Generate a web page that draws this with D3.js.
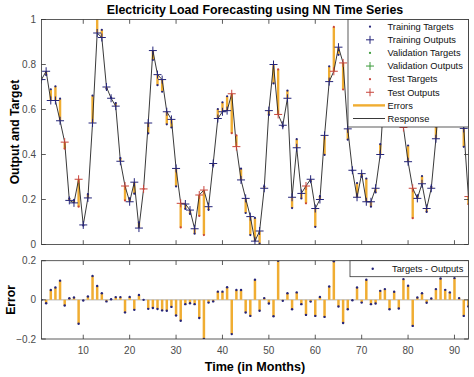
<!DOCTYPE html>
<html><head><meta charset="utf-8">
<script src="https://cdn.jsdelivr.net/npm/d3@7"></script>
<style>body{margin:0;background:#fff} text{font-family:"Liberation Sans",Arial,Helvetica,sans-serif}</style>
</head><body><svg id="c" width="474" height="377"></svg>
<script>
const months = d3.range(1, 94);
const outputs = [
 0.733,0.77,0.64,0.64,0.55,0.455,0.196,0.185,0.29,0.087,
 0.207,0.54,0.94,0.92,0.70,0.65,0.615,0.37,0.26,0.19,
 0.277,0.073,0.247,0.54,0.862,0.755,0.733,0.59,0.556,0.338,
 0.183,0.18,0.153,0.07,0.22,0.242,0.168,0.36,0.56,0.59,
 0.595,0.67,0.435,0.287,0.205,0.124,0.015,0.06,0.25,0.595,
 0.80,0.578,0.53,0.65,0.21,0.43,0.227,0.26,0.29,0.16,
 0.20,0.485,0.724,0.77,0.877,0.807,0.514,0.33,0.21,0.315,
 0.19,0.19,0.25,0.40,0.72,0.86,0.88,0.70,0.52,0.368,
 0.25,0.205,0.27,0.16,0.25,0.47,0.72,0.9,0.86,0.78,
 0.68,0.516,0.213];
const errors = [
 0,-0.017,0.05,0.063,0.098,-0.029,0.008,0.012,-0.122,-0.003,
 0.017,0.122,0.071,0.034,-0.008,0.003,0.014,0.014,-0.064,0.015,
 -0.051,0.025,0,-0.046,-0.042,-0.047,-0.054,-0.056,-0.036,-0.08,
 -0.107,-0.022,-0.017,-0.022,-0.093,-0.2,-0.014,-0.008,0.042,0.042,
 0.064,-0.175,0.05,0.05,-0.065,-0.082,0.103,-0.056,0.009,-0.019,
 -0.084,0.2,-0.005,0.034,-0.048,0.038,-0.022,-0.077,-0.009,-0.082,
 0.015,-0.087,0.068,0.197,-0.034,-0.118,-0.048,-0.002,0.063,-0.014,
 0.103,-0.022,-0.019,0.046,0.055,-0.048,0.041,-0.044,0.106,0.072,
 -0.133,0.012,0.034,-0.015,0.007,0.055,0.109,0.051,0.038,0.111,
 0.009,-0.082,-0.034];
const testMonths = [6,9,19,23,31,35,36,42,43,52,58,64,66,79,81,93];
const xTicks = [10,20,30,40,50,60,70,80,90];
const yTicksTop = [0,0.2,0.4,0.6,0.8,1];
const yTicksBottom = [-0.2,0,0.2];
const legendLabels = ["Training Targets","Training Outputs","Validation Targets","Validation Outputs","Test Targets","Test Outputs","Errors","Response"];
const errLegendLabel = "Targets - Outputs";
const titleText = "Electricity Load Forecasting using NN Time Series";

const C = {orange:"#F0AD32", navy:"#25257a", red:"#c8453c", green:"#3a9a3a", axis:"#333", tick:"#4a4a4a", line:"#222"};
const svg = d3.select("#c");
const L = 41.5, R = 468.4;
const x = d3.scaleLinear().domain([1,93]).range([L,R]);
const yT = d3.scaleLinear().domain([0,1]).range([244.5,19.5]);
const yB = d3.scaleLinear().domain([-0.2,0.2]).range([339,260.7]);

const data = months.map((m,i)=>({m, out:outputs[i], err:errors[i], tgt:outputs[i]+errors[i], test:testMonths.includes(m)}));
const col = d => d.test ? C.red : C.navy;

function clip(id, y){ svg.append("clipPath").attr("id",id).append("rect")
  .attr("x",L).attr("y",y.range()[1]).attr("width",R-L).attr("height",y.range()[0]-y.range()[1]); }
clip("ct", yT); clip("cb", yB);

const plus = "M-4,0H4M0,-4V4";

// ---- top panel
const gT = svg.append("g").attr("clip-path","url(#ct)");
gT.selectAll("line.err").data(data).join("line")
  .attr("x1",d=>x(d.m)).attr("x2",d=>x(d.m)).attr("y1",d=>yT(d.out)).attr("y2",d=>yT(d.tgt))
  .attr("stroke",C.orange).attr("stroke-width",2.4);
gT.append("path").datum(data).attr("fill","none").attr("stroke",C.line).attr("stroke-width",0.9)
  .attr("d", d3.line().x(d=>x(d.m)).y(d=>yT(d.out)));
gT.selectAll("path.p").data(data).join("path").attr("class","p")
  .attr("transform",d=>`translate(${x(d.m)},${yT(d.out)})`).attr("d",plus)
  .attr("stroke",col).attr("stroke-width",1).attr("fill","none");
gT.selectAll("circle").data(data).join("circle")
  .attr("cx",d=>x(d.m)).attr("cy",d=>yT(d.tgt)).attr("r",1.1).attr("fill",col);

function frame(y, yticks, showX){
  const y0 = y.range()[0], y1 = y.range()[1];
  const g = svg.append("g");
  g.append("rect").attr("x",L).attr("y",y1).attr("width",R-L).attr("height",y0-y1)
    .attr("fill","none").attr("stroke",C.axis).attr("stroke-width",0.8);
  const tl = 4.3;
  xTicks.forEach(t=>{
    g.append("line").attr("x1",x(t)).attr("x2",x(t)).attr("y1",y0).attr("y2",y0-tl).attr("stroke",C.axis).attr("stroke-width",0.8);
    g.append("line").attr("x1",x(t)).attr("x2",x(t)).attr("y1",y1).attr("y2",y1+tl).attr("stroke",C.axis).attr("stroke-width",0.8);
    if(showX) g.append("text").attr("x",x(t)).attr("y",y0+15).attr("text-anchor","middle")
      .attr("font-size",10).attr("fill",C.tick).text(t);
  });
  yticks.forEach(t=>{
    g.append("line").attr("x1",L).attr("x2",L+tl).attr("y1",y(t)).attr("y2",y(t)).attr("stroke",C.axis).attr("stroke-width",0.8);
    g.append("line").attr("x1",R).attr("x2",R-tl).attr("y1",y(t)).attr("y2",y(t)).attr("stroke",C.axis).attr("stroke-width",0.8);
    g.append("text").attr("x",L-5.5).attr("y",y(t)+3.5).attr("text-anchor","end")
      .attr("font-size",10).attr("fill",C.tick).text(d3.format("~g")(t));
  });
}
frame(yT, yTicksTop, false);

// top legend
const lg = svg.append("g");
lg.append("rect").attr("x",348).attr("y",19.5).attr("width",R-348).attr("height",107.5)
  .attr("fill","#fff").attr("stroke",C.axis).attr("stroke-width",0.8);
const rowY = d3.scaleLinear().domain([0,7]).range([26.7,118.5]);
const legendStyle = [
 {type:"dot",c:C.navy},{type:"plus",c:C.navy},{type:"dot",c:C.green},{type:"plus",c:C.green},
 {type:"dot",c:C.red},{type:"plus",c:C.red},{type:"line",c:C.orange,w:2.4},{type:"line",c:C.line,w:0.9}];
legendLabels.forEach((lab,i)=>{
  const yy = rowY(i), s = legendStyle[i];
  if(s.type==="dot") lg.append("circle").attr("cx",370).attr("cy",yy).attr("r",1.1).attr("fill",s.c);
  if(s.type==="plus") lg.append("path").attr("transform",`translate(370,${yy})`).attr("d",plus).attr("stroke",s.c).attr("stroke-width",1);
  if(s.type==="line") lg.append("line").attr("x1",353).attr("x2",385).attr("y1",yy).attr("y2",yy).attr("stroke",s.c).attr("stroke-width",s.w);
  lg.append("text").attr("x",387.5).attr("y",yy+3.3).attr("font-size",9.3).attr("fill","#111").text(lab);
});

// ---- bottom panel
const gB = svg.append("g").attr("clip-path","url(#cb)");
gB.append("line").attr("x1",L).attr("x2",R).attr("y1",yB(0)).attr("y2",yB(0)).attr("stroke","#777").attr("stroke-width",0.6);
gB.selectAll("line.s").data(data).join("line")
  .attr("x1",d=>x(d.m)).attr("x2",d=>x(d.m)).attr("y1",yB(0)).attr("y2",d=>yB(d.err))
  .attr("stroke",C.orange).attr("stroke-width",2.5);
gB.selectAll("circle").data(data).join("circle")
  .attr("cx",d=>x(d.m)).attr("cy",d=>yB(d.err)).attr("r",1.2).attr("fill",C.navy);
frame(yB, yTicksBottom, true);

const lb = svg.append("g");
lb.append("rect").attr("x",350).attr("y",260.7).attr("width",R-350).attr("height",16)
  .attr("fill","#fff").attr("stroke",C.axis).attr("stroke-width",0.8);
lb.append("circle").attr("cx",372.7).attr("cy",268.7).attr("r",1.2).attr("fill",C.navy);
lb.append("text").attr("x",392).attr("y",272).attr("font-size",9.3).attr("fill","#111").text(errLegendLabel);

// ---- texts
svg.append("text").attr("x",(L+R)/2).attr("y",14).attr("text-anchor","middle").attr("font-size",12.4)
  .attr("font-weight","bold").attr("fill","#000").text(titleText);
svg.append("text").attr("transform",`translate(19,${(19.5+244.5)/2}) rotate(-90)`).attr("text-anchor","middle")
  .attr("font-size",12.2).attr("font-weight","bold").attr("fill","#000").text("Output and Target");
svg.append("text").attr("transform",`translate(15,${(260.7+339)/2}) rotate(-90)`).attr("text-anchor","middle")
  .attr("font-size",12.2).attr("font-weight","bold").attr("fill","#000").text("Error");
svg.append("text").attr("x",(L+R)/2).attr("y",371).attr("text-anchor","middle")
  .attr("font-size",12.6).attr("font-weight","bold").attr("fill","#000").text("Time (in Months)");
</script></body></html>
